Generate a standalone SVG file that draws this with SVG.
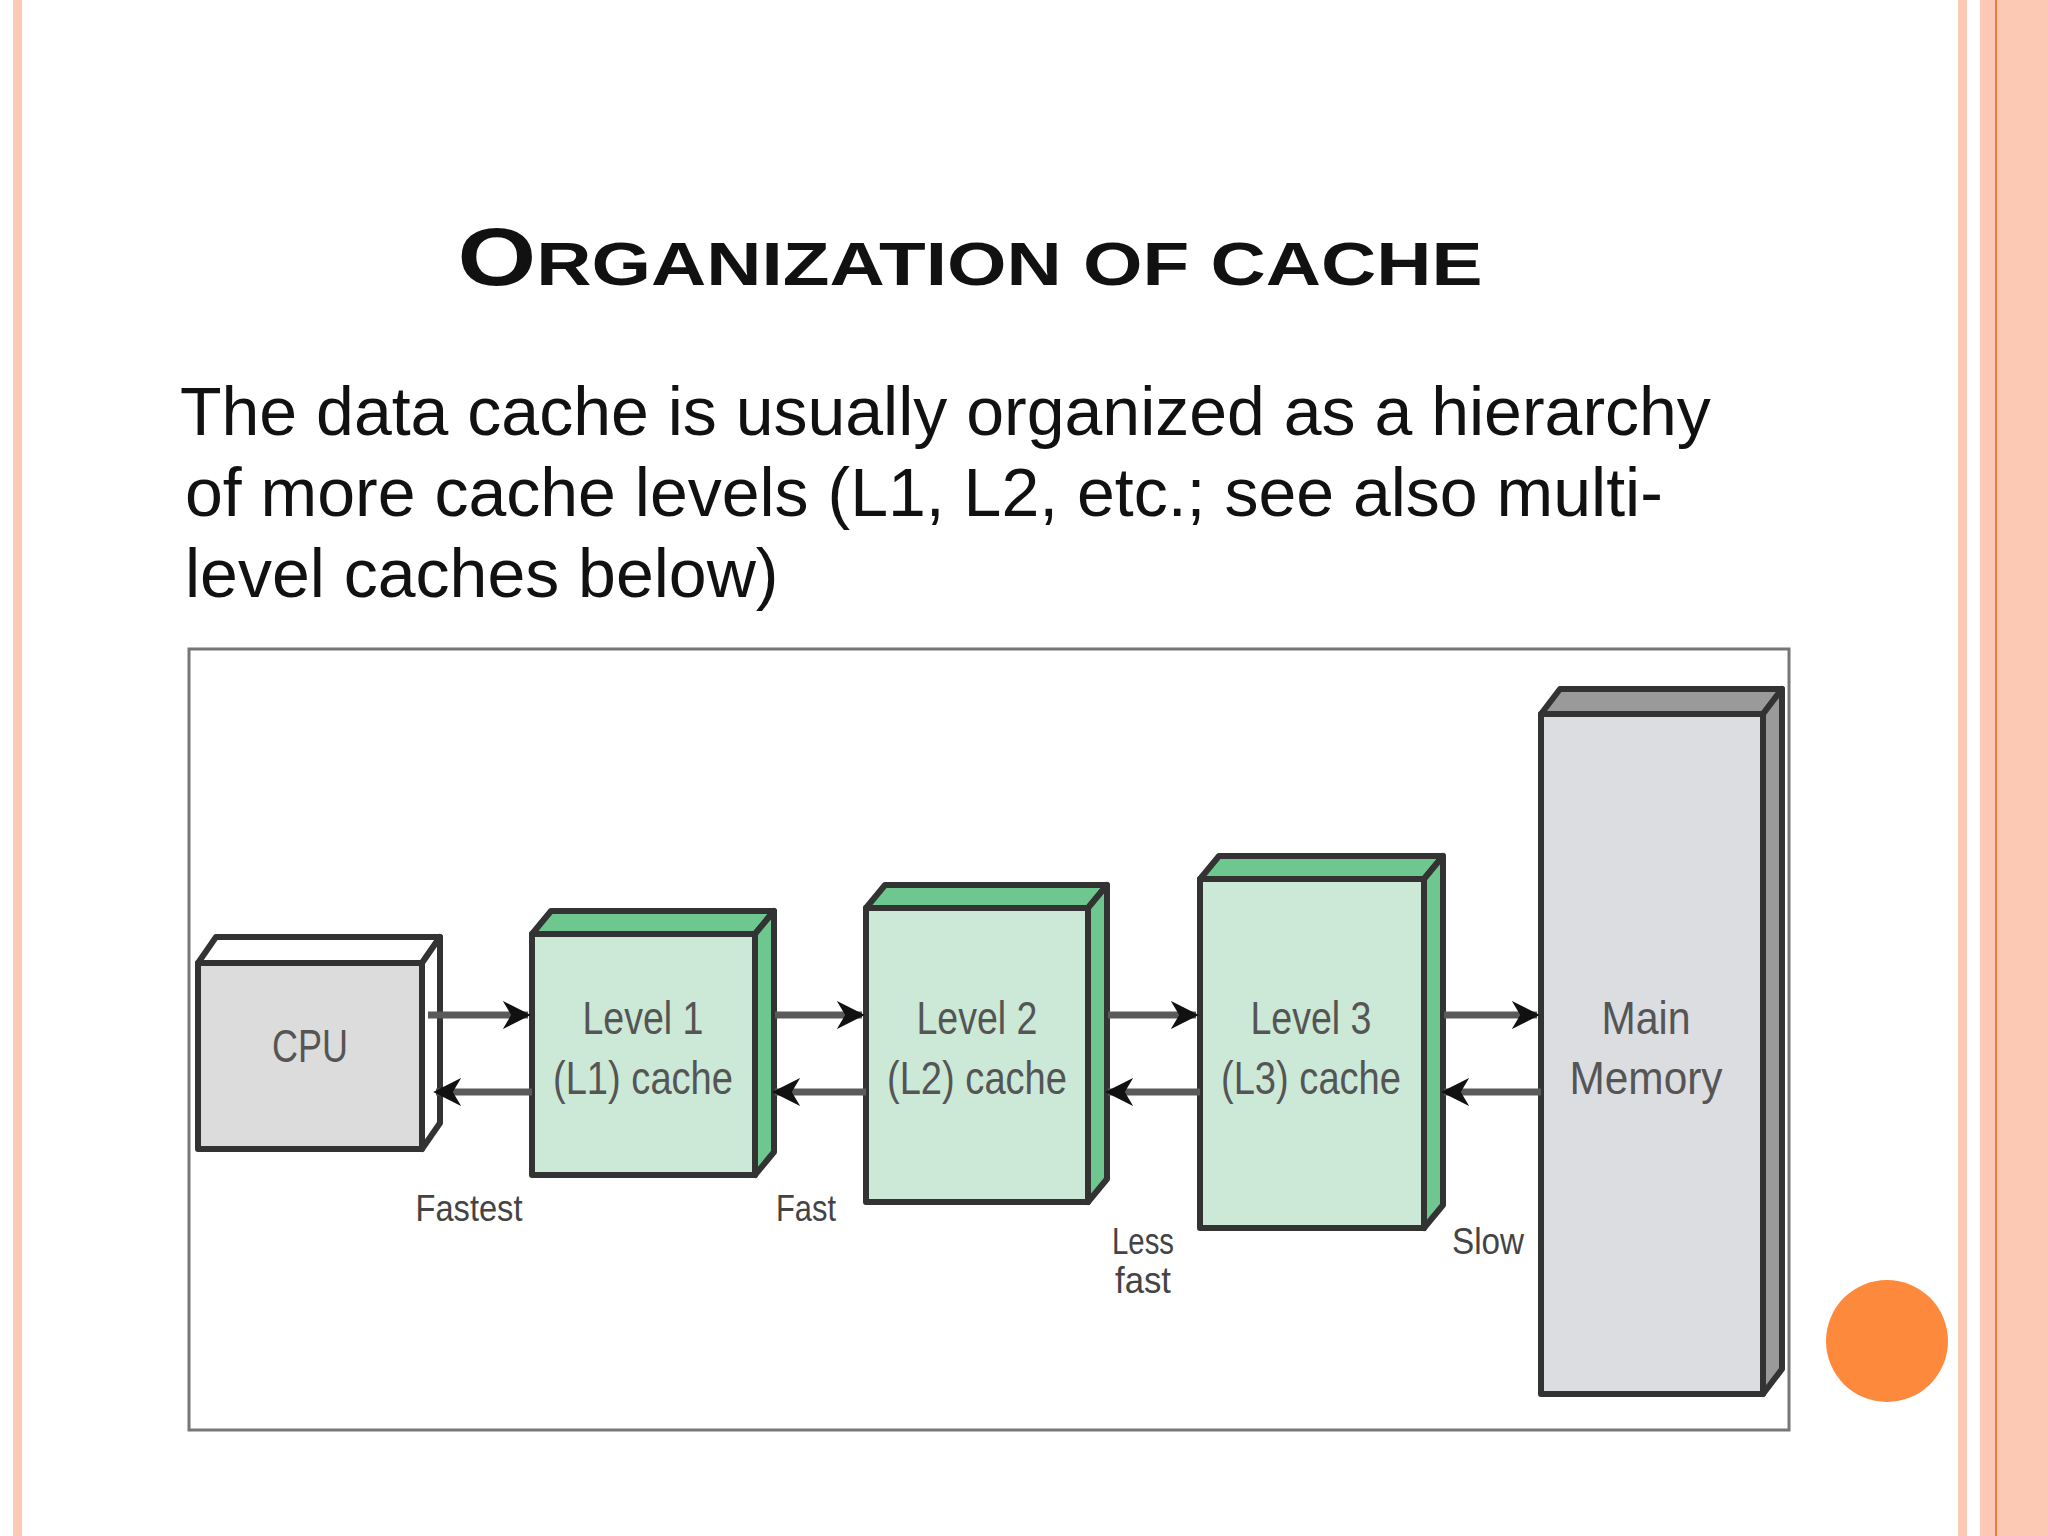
<svg xmlns="http://www.w3.org/2000/svg" width="2048" height="1536" viewBox="0 0 2048 1536">
<style>
.fr{stroke:#333;stroke-width:6;stroke-linejoin:round}
.g{fill:#cce8d6}.gd{fill:#6dc78f}
.lbl{font-family:"Liberation Sans",sans-serif;fill:#555;text-anchor:middle;font-size:46px}
.sm{font-family:"Liberation Sans",sans-serif;fill:#444;text-anchor:middle;font-size:36px}
.ln{stroke:#5a5a5a;stroke-width:7;fill:none}
</style>
<defs>
<marker id="ah" viewBox="0 0 10 10" refX="9" refY="5" markerWidth="4" markerHeight="4" orient="auto-start-reverse" markerUnits="strokeWidth">
<path d="M0,0 L10,5 L0,10 L3,5 z" fill="#111"/>
</marker>
</defs>
<rect width="2048" height="1536" fill="#fff"/>
<rect x="13" y="0" width="9" height="1536" fill="#fcc9b5"/>
<rect x="1958" y="0" width="9" height="1536" fill="#fcc9b5"/>
<rect x="1980" y="0" width="68" height="1536" fill="#fcc9b5"/>
<rect x="1995" y="0" width="2" height="1536" fill="#f07a3a"/>
<text x="970" y="285" font-family="Liberation Sans,sans-serif" font-weight="bold" text-anchor="middle" fill="#111" textLength="1025" lengthAdjust="spacingAndGlyphs"><tspan font-size="82">O</tspan><tspan font-size="62">RGANIZATION OF CACHE</tspan></text>
<g font-family="Liberation Sans,sans-serif" font-size="68" fill="#111">
<text x="180" y="435">The data cache is usually organized as a hierarchy</text>
<text x="185" y="516">of more cache levels (L1, L2, etc.; see also multi-</text>
<text x="185" y="597">level caches below)</text>
</g>
<rect x="189" y="649" width="1600" height="781" fill="#fff" stroke="#777" stroke-width="3"/>
<g id="cpu">
<path class="fr" d="M198,963 L216,937 L440,937 L422,963 Z" fill="#fff"/>
<path class="fr" d="M422,963 L440,937 L440,1123 L422,1149 Z" fill="#fff"/>
<rect class="fr" x="198" y="963" width="224" height="186" fill="#dcdcdc"/>
<text class="lbl" x="310" y="1062" textLength="76" lengthAdjust="spacingAndGlyphs">CPU</text>
</g>
<g id="l1">
<path class="fr gd" d="M532,934 L551,911 L774,911 L755,934 Z"/>
<path class="fr gd" d="M755,934 L774,911 L774,1152 L755,1175 Z"/>
<rect class="fr g" x="532" y="934" width="223" height="241"/>
<text class="lbl" x="643" y="1034" textLength="121" lengthAdjust="spacingAndGlyphs">Level 1</text><text class="lbl" x="643" y="1094" textLength="180" lengthAdjust="spacingAndGlyphs">(L1) cache</text>
</g>
<g id="l2">
<path class="fr gd" d="M866,908 L885,885 L1107,885 L1088,908 Z"/>
<path class="fr gd" d="M1088,908 L1107,885 L1107,1179 L1088,1202 Z"/>
<rect class="fr g" x="866" y="908" width="222" height="294"/>
<text class="lbl" x="977" y="1034" textLength="121" lengthAdjust="spacingAndGlyphs">Level 2</text><text class="lbl" x="977" y="1094" textLength="180" lengthAdjust="spacingAndGlyphs">(L2) cache</text>
</g>
<g id="l3">
<path class="fr gd" d="M1200,879 L1219,856 L1443,856 L1424,879 Z"/>
<path class="fr gd" d="M1424,879 L1443,856 L1443,1205 L1424,1228 Z"/>
<rect class="fr g" x="1200" y="879" width="224" height="349"/>
<text class="lbl" x="1311" y="1034" textLength="121" lengthAdjust="spacingAndGlyphs">Level 3</text><text class="lbl" x="1311" y="1094" textLength="180" lengthAdjust="spacingAndGlyphs">(L3) cache</text>
</g>
<g id="main">
<path class="fr" d="M1541,714 L1560,689 L1782,689 L1763,714 Z" fill="#9a9a9a"/>
<path class="fr" d="M1763,714 L1782,689 L1782,1369 L1763,1394 Z" fill="#9a9a9a"/>
<rect class="fr" x="1541" y="714" width="222" height="680" fill="#dcdde0"/>
<text class="lbl" x="1646" y="1034" textLength="89" lengthAdjust="spacingAndGlyphs">Main</text><text class="lbl" x="1646" y="1094" textLength="153" lengthAdjust="spacingAndGlyphs">Memory</text>
</g>
<g id="connectors">
<line class="ln" x1="428" y1="1015" x2="528" y2="1015" marker-end="url(#ah)"/>
<line class="ln" x1="436" y1="1092" x2="532" y2="1092" marker-start="url(#ah)"/>
<line class="ln" x1="775" y1="1015" x2="862" y2="1015" marker-end="url(#ah)"/>
<line class="ln" x1="775" y1="1092" x2="866" y2="1092" marker-start="url(#ah)"/>
<line class="ln" x1="1108" y1="1015" x2="1196" y2="1015" marker-end="url(#ah)"/>
<line class="ln" x1="1108" y1="1092" x2="1200" y2="1092" marker-start="url(#ah)"/>
<line class="ln" x1="1444" y1="1015" x2="1537" y2="1015" marker-end="url(#ah)"/>
<line class="ln" x1="1444" y1="1092" x2="1541" y2="1092" marker-start="url(#ah)"/>
</g>
<text class="sm" x="469" y="1221" textLength="107" lengthAdjust="spacingAndGlyphs">Fastest</text>
<text class="sm" x="806" y="1221" textLength="60" lengthAdjust="spacingAndGlyphs">Fast</text>
<text class="sm" x="1143" y="1254" textLength="62" lengthAdjust="spacingAndGlyphs">Less</text>
<text class="sm" x="1143" y="1293" textLength="56" lengthAdjust="spacingAndGlyphs">fast</text>
<text class="sm" x="1488" y="1254" textLength="72" lengthAdjust="spacingAndGlyphs">Slow</text>
<circle cx="1887" cy="1341" r="61" fill="#fd893c"/>
</svg>
